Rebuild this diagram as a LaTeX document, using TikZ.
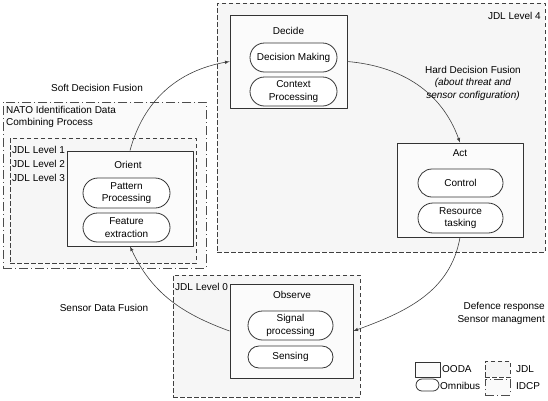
\documentclass[tikz,border=0pt]{standalone}
\usepackage{fontspec}
\setmainfont{Liberation Sans}
\usetikzlibrary{calc}
\usetikzlibrary{shapes.misc}

\begin{document}
\begin{tikzpicture}[x=1pt,y=-1pt,line join=round,
  every node/.style={font=\fontsize{10}{12.5}\selectfont,inner sep=0pt},
  ooda/.style={draw=black!80,line width=0.9pt,fill=gray!3,rectangle},
  omni/.style={draw=black!80,line width=0.8pt,fill=white,rounded rectangle,align=center},
  jdl/.style={draw=black!75,line width=1pt,dash pattern=on 4.5pt off 2.5pt,fill=gray!7},
  idcp/.style={draw=black!70,line width=1pt,dash pattern=on 9pt off 3pt on 1pt off 3pt,fill=gray!4},
  flow/.style={draw=black!75,line width=0.6pt,-latex},
  ]
  \useasboundingbox (0,0) rectangle (548,400);
  % ORIENT (IDCP, JDL 1-3)
  \node[idcp,minimum width=203pt,minimum height=166pt] (idcp) at (104.5,185) {};
  \node[anchor=north west,align=left] (nato) at (6,106) {NATO Identification Data\\Combining Process};
  \node[jdl,minimum width=186pt,minimum height=125pt] (jdlA) at (103,200.5) {};
  \node[anchor=west] (lvlA) at (12,150) {JDL Level 1};
  \node[anchor=west] (lvlB) at (12,164) {JDL Level 2};
  \node[anchor=west] (lvlC) at (12,178) {JDL Level 3};
  \node[ooda,minimum width=126pt,minimum height=95pt] (orient) at (130,198.5) {};
  \node (orientlbl) at (128,165) {Orient};
  \node[omni,minimum width=87pt,minimum height=30pt] (pattern) at (126.5,193) {Pattern\\Processing};
  \node[omni,minimum width=87pt,minimum height=29pt] (feature) at (126.5,227.5) {Feature\\extraction};
  % DECIDE + ACT (JDL 4)
  \node[jdl,minimum width=328pt,minimum height=249pt] (jdlB) at (381,127.5) {};
  \node[anchor=east] (lvlD) at (541,16) {JDL Level 4};
  \node[ooda,minimum width=117pt,minimum height=93pt] (decide) at (288.5,61.5) {};
  \node (decidelbl) at (288.5,31) {Decide};
  \node[omni,minimum width=87pt,minimum height=29pt] (making) at (293.5,57.5) {Decision Making};
  \node[omni,minimum width=87pt,minimum height=29pt] (context) at (293.5,91.5) {Context\\Processing};
  \node[ooda,minimum width=126pt,minimum height=94pt] (act) at (460,190) {};
  \node (actlbl) at (460,153) {Act};
  \node[omni,minimum width=85pt,minimum height=28pt] (control) at (460.5,183) {Control};
  \node[omni,minimum width=85pt,minimum height=30pt] (tasking) at (460.5,218) {Resource\\tasking};
  % OBSERVE (JDL 0)
  \node[jdl,minimum width=187pt,minimum height=122pt] (jdlC) at (266.5,336) {};
  \node[anchor=west] (lvlE) at (175,287) {JDL Level 0};
  \node[ooda,minimum width=123pt,minimum height=94pt] (observe) at (291.5,331) {};
  \node (observelbl) at (292,295) {Observe};
  \node[omni,minimum width=85pt,minimum height=29pt] (signal) at (290.5,325.5) {Signal\\processing};
  \node[omni,minimum width=85pt,minimum height=22pt] (sensing) at (290.5,357) {Sensing};
  % FUSION ARROWS
  \draw[flow] (orient.north) to[out=75,in=190] (decide.west);
  \draw[flow] (decide.east) to[out=-5,in=110] (act.north);
  \draw[flow] (act.south) to[out=-100,in=20] (observe.east);
  \draw[flow] (observe.west) to[out=160,in=-65] (orient.south);
  \node (soft) at (97,88) {Soft Decision Fusion};
  \node[align=center] (hard) at (473,83) {Hard Decision Fusion\\\textit{(about threat and}\\\textit{sensor configuration)}};
  \node[anchor=east,align=right] (defence) at (545,313.5) {Defence response\\Sensor managment};
  \node (sensor) at (104,308) {Sensor Data Fusion};
  % LEGEND
  \node[ooda,minimum width=25pt,minimum height=15pt] (keyooda) at (427.5,369.5) {};
  \node[anchor=west] (keyoodalbl) at (442,369.5) {OODA};
  \node[omni,minimum width=23pt,minimum height=12pt] (keyomni) at (427.5,385) {};
  \node[anchor=west] (keyomnilbl) at (440,385.5) {Omnibus};
  \node[jdl,minimum width=25pt,minimum height=16pt] (keyjdl) at (497.5,369) {};
  \node[anchor=west] (keyjdllbl) at (516,369.5) {JDL};
  \node[idcp,minimum width=25pt,minimum height=16pt] (keyidcp) at (497.5,387) {};
  \node[anchor=west] (keyidcplbl) at (516,386.5) {IDCP};
\end{tikzpicture}
\end{document}
